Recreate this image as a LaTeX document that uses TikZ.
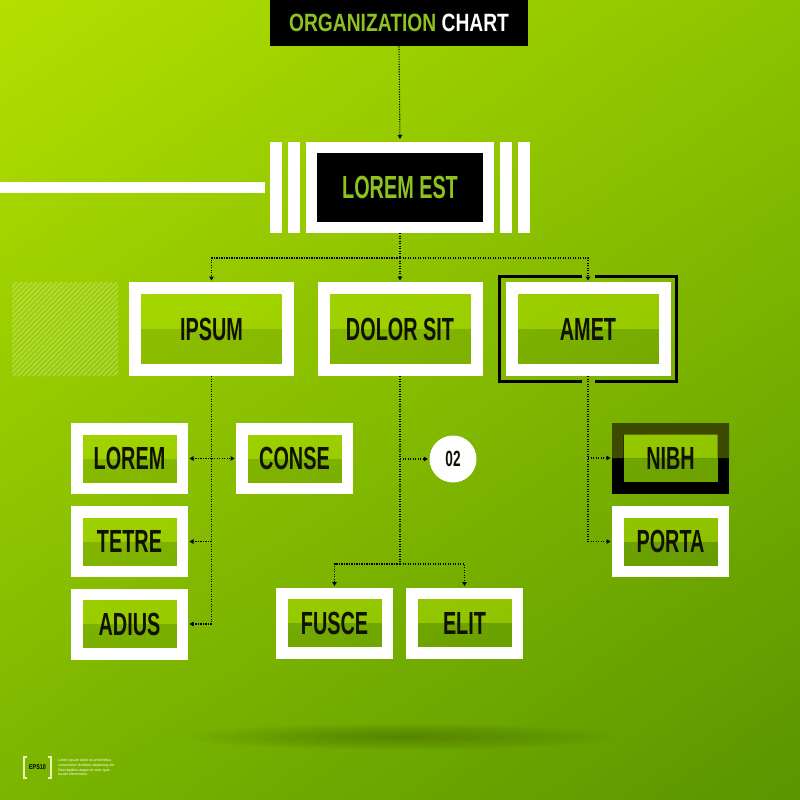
\documentclass[tikz,border=0pt]{standalone}
\usepackage{fontspec}
\setmainfont{Liberation Sans}
\newfontfamily\cf[FakeStretch=0.62]{Liberation Sans}
\newfontfamily\tf[FakeStretch=0.77]{Liberation Sans}
\usetikzlibrary{arrows.meta,calc,shadings}
\definecolor{bgA}{HTML}{B4E000}
\definecolor{bgB}{HTML}{8CC400}
\definecolor{bgC}{HTML}{7AB500}
\definecolor{bgD}{HTML}{5A9400}
\definecolor{gloss}{HTML}{B6E400}
\definecolor{tgreen}{HTML}{8DC21F}
\definecolor{txt}{HTML}{111100}
\definecolor{olive}{HTML}{3C4B00}
\definecolor{pale}{HTML}{E8F5B0}
\begin{document}
\begin{tikzpicture}[x=1pt,y=-1pt,
  frame/.style={rectangle, draw=white, line width=12pt, inner sep=0pt,
    font=\cf\bfseries\fontsize{32}{32}\selectfont, text=txt,
    path picture={\fill[gloss,opacity=.45] (path picture bounding box.north west) rectangle (path picture bounding box.east);
                  \fill[black,opacity=.05] (path picture bounding box.west) rectangle (path picture bounding box.south east);}},
  big/.style={frame, minimum width=153pt, minimum height=82pt},
  small/.style={frame, line width=11.5pt, minimum width=105.5pt, minimum height=59.5pt},
  dotl/.style={black, line width=1.1pt, dash pattern=on 1.1pt off 1.4pt},
  arr/.style={dotl, -{Triangle[length=4pt,width=4.5pt]}, shorten >=1.5pt}
]
\useasboundingbox (0,0) rectangle (800,800);
% background
\shade[upper left=bgA, upper right=bgB, lower left=bgC, lower right=bgD] (0,0) rectangle (800,800);
% shadow
\foreach \i in {1,...,10} \fill[black,opacity=0.018] (400,737) ellipse ({21*\i} and {1.3*\i});
% hatch square
\begin{scope}
\clip (12,282) rectangle (118,376);
\foreach \k in {0,5,...,210} \draw[white,opacity=.25,line width=1.5pt] ({\k-82},376) -- ++(94,-94);
\end{scope}
% title
\node[fill=black, minimum width=258pt, minimum height=46pt, inner sep=0pt, anchor=north] (title) at (399,0)
  {\tf\bfseries\fontsize{25}{25}\selectfont\textcolor{tgreen}{ORGANIZATION} \textcolor{white}{CHART}};
% top node
\fill[white] (0,182) rectangle (265,193);
\fill[white] (270,142) rectangle (282,233);
\fill[white] (288,142) rectangle (300,233);
\fill[white] (500,142) rectangle (512,233);
\fill[white] (518,142) rectangle (530,233);
\node[rectangle, draw=white, fill=black, line width=11pt, minimum width=177pt, minimum height=80pt, inner sep=0pt,
  font=\cf\bfseries\fontsize{32}{32}\selectfont, text=tgreen] (est) at (400,187.5) {LOREM EST};
% level 2
\node[big] (ipsum) at (211.5,329) {IPSUM};
\node[big] (dolor) at (400,329) {DOLOR SIT};
\node[big] (amet) at (588,329) {AMET};
\draw[black,line width=3pt] (582,276.5) -- (499.5,276.5) -- (499.5,381) -- (582,381);
\draw[black,line width=3pt] (595,276.5) -- (676,276.5) -- (676,381) -- (595,381);
% level 3
\node[small] (lorem) at (129.5,458.5) {LOREM};
\node[small] (conse) at (294.5,458.5) {CONSE};
\node[small] (tetre) at (129.5,541.5) {TETRE};
\node[small] (adius) at (129.5,624) {ADIUS};
\node[small] (fusce) at (334.5,623) {FUSCE};
\node[small] (elit) at (464.5,623) {ELIT};
\node[small, draw=black] (nibh) at (670.5,458) {NIBH};
\fill[olive, even odd rule] (612,423) rectangle (729,458) (623.5,434.5) rectangle (717.5,458);
\node[small] (porta) at (670.5,541.5) {PORTA};
\node[circle, fill=white, minimum size=47pt, inner sep=0pt, text=txt,
  font=\cf\bfseries\fontsize{22}{22}\selectfont] (c02) at (453,459) {02};
% connectors
\coordinate (j0) at (400,258);
\coordinate (j1) at (400,564);
\draw[arr, shorten >=3pt] (title.south) -- (est.north);
\draw[dotl] (est.south) -- (j0);
\draw[arr] (j0) -| (ipsum.north);
\draw[arr] (j0) -- (dolor.north);
\draw[arr] (j0) -| (amet.north);
% ipsum branch
\draw[dotl] (ipsum.south) -- (ipsum.south |- adius.east);
\draw[arr] (ipsum.south |- lorem.east) -- (lorem.east);
\draw[arr] (ipsum.south |- conse.west) -- (conse.west);
\draw[arr] (ipsum.south |- tetre.east) -- (tetre.east);
\draw[arr] (ipsum.south |- adius.east) -- (adius.east);
% dolor branch
\draw[dotl] (dolor.south) -- (j1);
\draw[arr] (dolor.south |- c02.west) -- (c02.west);
\draw[arr] (j1) -| (fusce.north);
\draw[arr] (j1) -| (elit.north);
% amet branch
\draw[dotl] (amet.south) -- (amet.south |- porta.west);
\draw[arr] (amet.south |- nibh.west) -- (nibh.west);
\draw[arr] (amet.south |- porta.west) -- (porta.west);
% EPS mark
\draw[pale, line width=1.3pt] (27,757) -- (24,757) -- (24,778) -- (27,778);
\draw[pale, line width=1.3pt] (48,757) -- (51,757) -- (51,778) -- (48,778);
\node[font=\tf\bfseries\fontsize{7}{7}\selectfont, text=black, inner sep=0pt] (eps) at (37.5,767.5) {EPS10};
\node[font=\fontsize{3.6}{4.6}\selectfont, text=white, align=left, anchor=west, inner sep=0pt] (lor) at (58,767.5)
  {Lorem ipsum dolor sit amet/tellus,\\ consectetur tincidunt adipiscing elit.\\ Sed dapibus augue at nunc quis\\ iaculis elementum.};
\end{tikzpicture}
\end{document}
